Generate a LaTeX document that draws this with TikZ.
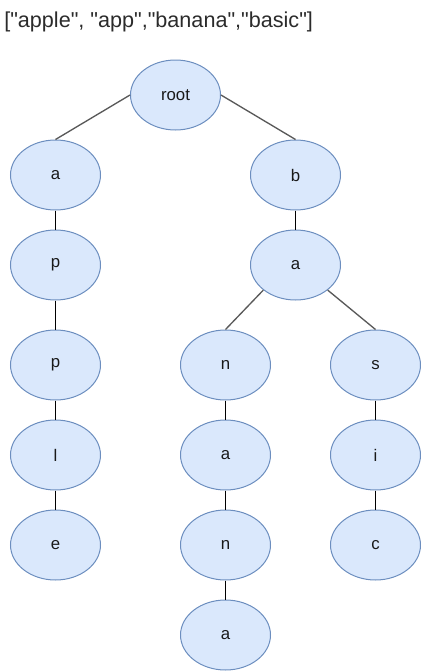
\documentclass[tikz,border=0pt]{standalone}
\usepackage{fontspec}
\setmainfont{Liberation Sans}[Ligatures=TeXOff]
\usetikzlibrary{shapes.geometric}
\definecolor{nodefill}{HTML}{DAE8FC}
\definecolor{nodeline}{HTML}{6C8EBF}
\definecolor{diagline}{HTML}{595959}
\definecolor{titlecol}{HTML}{2B2B2B}
\begin{document}
\begin{tikzpicture}[x=0.75pt,y=-0.75pt,
  trie/.style={ellipse,draw=nodeline,fill=nodefill,line width=0.75pt,
    minimum width=67.5pt,minimum height=52.5pt,inner sep=0pt,
    font=\fontsize{12.6pt}{14pt}\selectfont,text=black!90},
  vlink/.style={draw=black,line width=0.75pt},
  dlink/.style={draw=diagline,line width=1pt}]
\useasboundingbox (0,0) rectangle (421,671);
\node[anchor=base west,inner sep=0pt,text=titlecol,font=\fontsize{16.2pt}{19pt}\selectfont] (title) at (4,27) {["apple", "app","banana","basic"]};
% nodes
\node[trie] (root) at (175.5,95) {root};
\node[trie] (a1) at (55.5,175) {a};
\node[trie] (p1) at (55.5,265) {p};
\node[trie] (p2) at (55.5,365) {p};
\node[trie] (l1) at (55.5,455) {l};
\node[trie] (e1) at (55.5,545) {e};
\node[trie] (b1) at (295.5,175) {b};
\node[trie] (a2) at (295.5,265) {a};
\node[trie] (n1) at (225.5,365) {n};
\node[trie] (a3) at (225.5,455) {a};
\node[trie] (n2) at (225.5,545) {n};
\node[trie] (a4) at (225.5,635) {a};
\node[trie] (s1) at (375.5,365) {s};
\node[trie] (i1) at (375.5,455) {i};
\node[trie] (c1) at (375.5,545) {c};
% links
\draw[dlink] (root.west) -- (a1.north);
\draw[dlink] (root.east) -- (b1.north);
\draw[dlink] (a2.south west) -- (n1.north);
\draw[dlink] (a2.south east) -- (s1.north);
\draw[vlink] (a1) -- (p1);
\draw[vlink] (p1) -- (p2);
\draw[vlink] (p2) -- (l1);
\draw[vlink] (l1) -- (e1);
\draw[vlink] (b1) -- (a2);
\draw[vlink] (n1) -- (a3);
\draw[vlink] (a3) -- (n2);
\draw[vlink] (n2) -- (a4);
\draw[vlink] (s1) -- (i1);
\draw[vlink] (i1) -- (c1);
\end{tikzpicture}
\end{document}
